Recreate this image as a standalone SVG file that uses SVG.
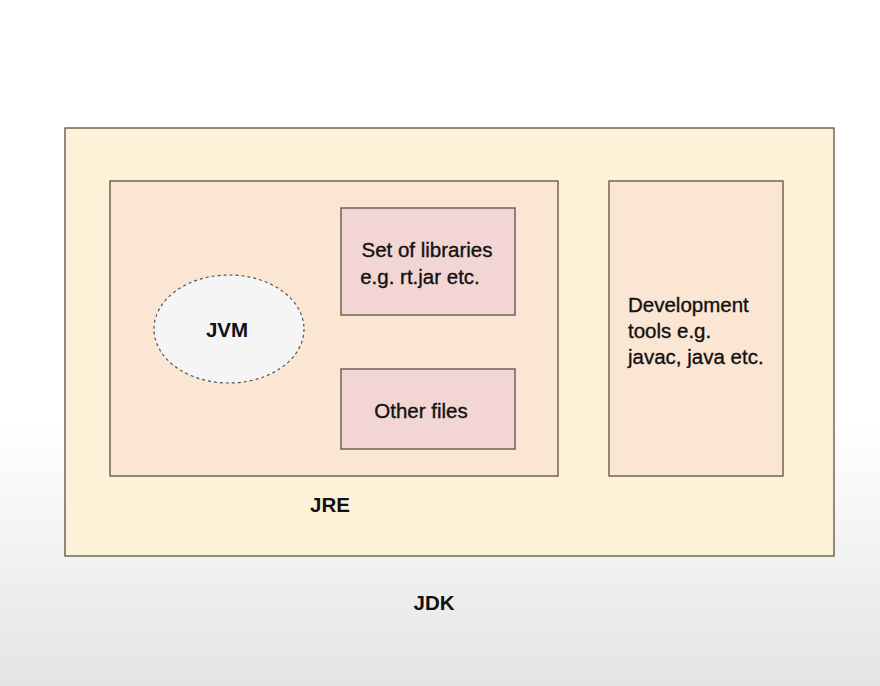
<svg xmlns="http://www.w3.org/2000/svg" width="880" height="686" viewBox="0 0 880 686">
<defs>
<linearGradient id="bg" x1="0" y1="0" x2="0" y2="1">
<stop offset="0" stop-color="#ffffff"/><stop offset="0.62" stop-color="#ffffff"/><stop offset="1" stop-color="#e4e4e4"/>
</linearGradient>
<style>
.b{stroke:#5a5046;stroke-width:1.3}
.t{font-family:"Liberation Sans",Arial,sans-serif;font-size:20.5px;fill:#111;stroke:#111;stroke-width:0.35}
.bold{font-weight:bold;stroke-width:0}
</style>
</defs>
<rect width="880" height="686" fill="url(#bg)"/>
<g id="jdk"><rect class="b" x="65" y="128" width="769" height="428" fill="#fdf2d8"/>
<text class="t bold" x="434" y="610" text-anchor="middle" font-size="24">JDK</text></g>
<g id="jre"><rect class="b" x="110" y="181" width="448" height="295" fill="#fbe6d4"/>
<text class="t bold" x="330" y="512" text-anchor="middle" font-size="21">JRE</text></g>
<g id="jvm"><ellipse cx="229" cy="329" rx="75" ry="54" fill="#f5f5f5" stroke="#555" stroke-width="1.2" stroke-dasharray="3,3"/>
<text class="t bold" x="227" y="337" text-anchor="middle" font-size="22">JVM</text></g>
<g id="libs"><rect class="b" x="341" y="208" width="174" height="107" fill="#f3d5d3"/>
<text class="t" x="427" y="257" text-anchor="middle">Set of libraries</text>
<text class="t" x="420" y="284" text-anchor="middle">e.g. rt.jar etc.</text></g>
<g id="other"><rect class="b" x="341" y="369" width="174" height="80" fill="#f3d5d3"/>
<text class="t" x="421" y="418" text-anchor="middle">Other files</text></g>
<g id="devtools"><rect class="b" x="609" y="181" width="174" height="295" fill="#fbe6d4"/>
<text class="t" x="628" y="312">Development</text>
<text class="t" x="628" y="338">tools e.g.</text>
<text class="t" x="628" y="364">javac, java etc.</text></g>
<g id="connectors"/>
</svg>
